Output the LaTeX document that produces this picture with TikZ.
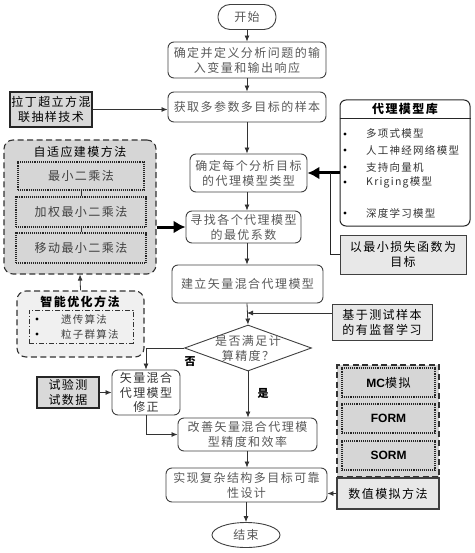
\documentclass[tikz,border=0pt]{standalone}
\usepackage{fontspec}
\usepackage{tikz}
\usetikzlibrary{arrows.meta,shapes.geometric}
\setmainfont[LetterSpace=12]{Noto Sans CJK SC}
\newfontfamily\latinb{Liberation Sans}

\tikzset{
	proc/.style={draw=black!75, line width=0.9pt, rounded corners=6pt, align=center, text=black!65, inner sep=1pt, font=\fontsize{12}{15}\selectfont},
	side/.style={draw=black!85, line width=1.5pt, fill=black!15, align=center, inner sep=1pt, font=\fontsize{12}{15}\selectfont},
	note/.style={draw=black!75, line width=0.8pt, fill=black!9, align=center, inner sep=1pt, font=\fontsize{12}{15}\selectfont},
	dotbox/.style={draw=black!85, densely dotted, line width=1.1pt, fill=black!16, text=black!75, font=\fontsize{12}{15}\selectfont},
	arr/.style={draw=black!80, line width=0.8pt, -{Latex[length=6pt,width=5pt]}},
	fat/.style={draw=black, line width=3pt, -{Latex[length=12pt,width=13pt]}}
}

\begin{document}
\begin{tikzpicture}[x=1pt,y=-1pt]
	\useasboundingbox (0,0) rectangle (474,553);
	
	% main column
	\node[proc, rounded corners=12pt, minimum width=58pt, minimum height=25pt] (start) at (247,17) {开始};
	\node[proc, minimum width=158pt, minimum height=36pt] (def) at (247,60) {确定并定义分析问题的输\\入变量和输出响应};
	\node[proc, minimum width=158pt, minimum height=30pt] (samp) at (247,107) {获取多参数多目标的样本};
	\node[proc, minimum width=117pt, minimum height=38pt] (type) at (248.5,173) {确定每个分析目标\\的代理模型类型};
	\node[proc, minimum width=115pt, minimum height=32pt] (coef) at (243.5,227) {寻找各个代理模型\\的最优系数};
	\node[proc, minimum width=151pt, minimum height=38pt] (mix) at (247.5,284) {建立矢量混合代理模型};
	\node[diamond, draw=black!75, line width=0.9pt, minimum width=127pt, minimum height=46pt, inner sep=0pt] (chk) at (248,348) {};
	\node[align=center, text=black!65, font=\fontsize{12}{15}\selectfont] (chktxt) at (chk) {是否满足计\\算精度？};
	\node[proc, minimum width=68pt, minimum height=45pt, text=black!80, font=\fontsize{12}{14.5}\selectfont] (fix) at (146,392.5) {矢量混合\\代理模型\\修正};
	\node[proc, minimum width=139pt, minimum height=33pt] (impr) at (247.5,434.5) {改善矢量混合代理模\\型精度和效率};
	\node[proc, minimum width=161pt, minimum height=34pt] (rel) at (246.5,485) {实现复杂结构多目标可靠\\性设计};
	\node[ellipse, draw=black!75, line width=0.9pt, minimum width=68pt, minimum height=25pt, inner sep=0pt, text=black!65, font=\fontsize{12}{15}\selectfont] (stop) at (246,535) {结束};
	
	% side inputs
	\node[side, minimum width=82pt, minimum height=35pt] (lhs) at (51,109.5) {拉丁超立方混\\联抽样技术};
	\node[side, minimum width=62pt, minimum height=31pt] (test) at (68,392.5) {试验测\\试数据};
	\node[note, minimum width=126pt, minimum height=39pt] (loss) at (403,254.5) {以最小损失函数为\\目标};
	\node[note, minimum width=100pt, minimum height=36pt] (sup) at (382,322) {基于测试样本\\的有监督学习};
	
	% surrogate library
	\node[draw=black!85, line width=1pt, rounded corners=6pt, minimum width=130pt, minimum height=126pt] (lib) at (405,163) {};
	\node[font=\fontsize{12}{14}\bfseries] (libhd) at (405,109) {代理模型库};
	\coordinate (libsep) at (405,118);
	\draw[black!85, line width=0.8pt] (libsep -| lib.west) -- (libsep -| lib.east);
	\foreach \y/\t [count=\i] in {134/多项式模型, 150/人工神经网络模型, 167/支持向量机, 182/Kriging模型, 213/深度学习模型}
	{
		\fill (345,\y) circle (1.6pt);
		\node[anchor=west, inner sep=0pt, text=black!80, font=\fontsize{10.5}{12}\selectfont] (lib\i) at (366,\y) {\t};
	};
	
	% adaptive modelling group
	\node[draw=black!80, dash pattern=on 6pt off 3.5pt, line width=1.1pt, fill=black!16, rounded corners=9pt, minimum width=152pt, minimum height=134pt] (ada) at (80,207) {};
	\node[font=\fontsize{12}{14}\selectfont] (adahd) at (80,152) {自适应建模方法};
	\node[dotbox, minimum width=126pt, minimum height=28pt] (ls1) at (81,176) {最小二乘法};
	\node[dotbox, minimum width=130pt, minimum height=30pt] (ls2) at (81,212) {加权最小二乘法};
	\node[dotbox, minimum width=130pt, minimum height=30pt] (ls3) at (81,248) {移动最小二乘法};
	\draw[black!80, line width=0.6pt] (ls1) -- (ls2);
	\draw[black!80, line width=0.6pt] (ls2) -- (ls3);
	
	% optimisation group
	\node[draw=black!80, dash pattern=on 6pt off 3.5pt, line width=1.1pt, fill=black!6, rounded corners=9pt, minimum width=127pt, minimum height=66pt] (opt) at (80.5,324) {};
	\node[font=\fontsize{12}{14}\bfseries] (opthd) at (80,302) {智能优化方法};
	\node[draw=black!80, dash pattern=on 5pt off 2pt on 1pt off 2pt, line width=0.8pt, minimum width=104pt, minimum height=33pt] (optin) at (81,326.5) {};
	\foreach \y/\t [count=\i] in {319/遗传算法, 334/粒子群算法}
	{
		\fill (37,\y) circle (1.6pt);
		\node[anchor=west, inner sep=0pt, text=black!75, font=\fontsize{10.5}{12}\selectfont] (alg\i) at (61,\y) {\t};
	};
	
	% numerical simulation group
	\node[draw=black!80, dash pattern=on 6pt off 3.5pt, line width=1.2pt, fill=black!16, minimum width=102pt, minimum height=112pt] (sim) at (388,421) {};
	\node[dotbox, text=black, minimum width=93pt, minimum height=29pt] (mc) at (388.5,382.5) {{\latinb\bfseries MC}模拟};
	\node[dotbox, text=black, minimum width=93pt, minimum height=29pt] (form) at (388.5,418.5) {\latinb\bfseries FORM};
	\node[dotbox, text=black, minimum width=93pt, minimum height=29pt] (sorm) at (388.5,455.5) {\latinb\bfseries SORM};
	\node[note, line width=1.1pt, minimum width=102pt, minimum height=31pt] (num) at (388,493.5) {数值模拟方法};
	
	% connectors
	\draw[arr] (start) -- (def);
	\draw[arr] (def) -- (samp);
	\draw[arr] (lhs.east) -- (lhs.east -| samp.west);
	\draw[arr] (samp.south) -- (type.north -| samp);
	\draw[arr] (type.south -| samp) -- (coef.north -| samp);
	\draw[arr] (coef.south -| samp) -- (mix.north -| samp);
	\draw[arr] (mix.south -| samp) -- (chk.north);
	\coordinate (merge) at (247,313);
	\draw[arr] (sup.west |- merge) -- (merge);
	\draw[arr] (chk.west) -| (fix.north);
	\draw[arr] (chk.south) -- (impr.north -| chk);
	\draw[arr] (test) -- (fix);
	\draw[arr] (fix.south) |- (impr.west);
	\draw[arr] (impr.south -| samp) -- (rel.north -| samp);
	\draw[arr] (rel.south -| stop) -- (stop.north);
	\draw[arr] (num.west) -- (num.west -| rel.east);
	\draw[arr] (opt.north) -- (ada.south);
	\draw[fat] (lib.west |- type) -- (type.east);
	\coordinate (tap) at (330,173);
	\draw[black!85, line width=0.9pt] (loss.west) -| (tap);
	\draw[fat] (ada.east |- coef) -- (coef.west);
	
	\node[font=\fontsize{11}{13}\bfseries] (no) at (190,362) {否};
	\node[font=\fontsize{11}{13}\bfseries] (yes) at (263,393) {是};
	
\end{tikzpicture}
\end{document}
